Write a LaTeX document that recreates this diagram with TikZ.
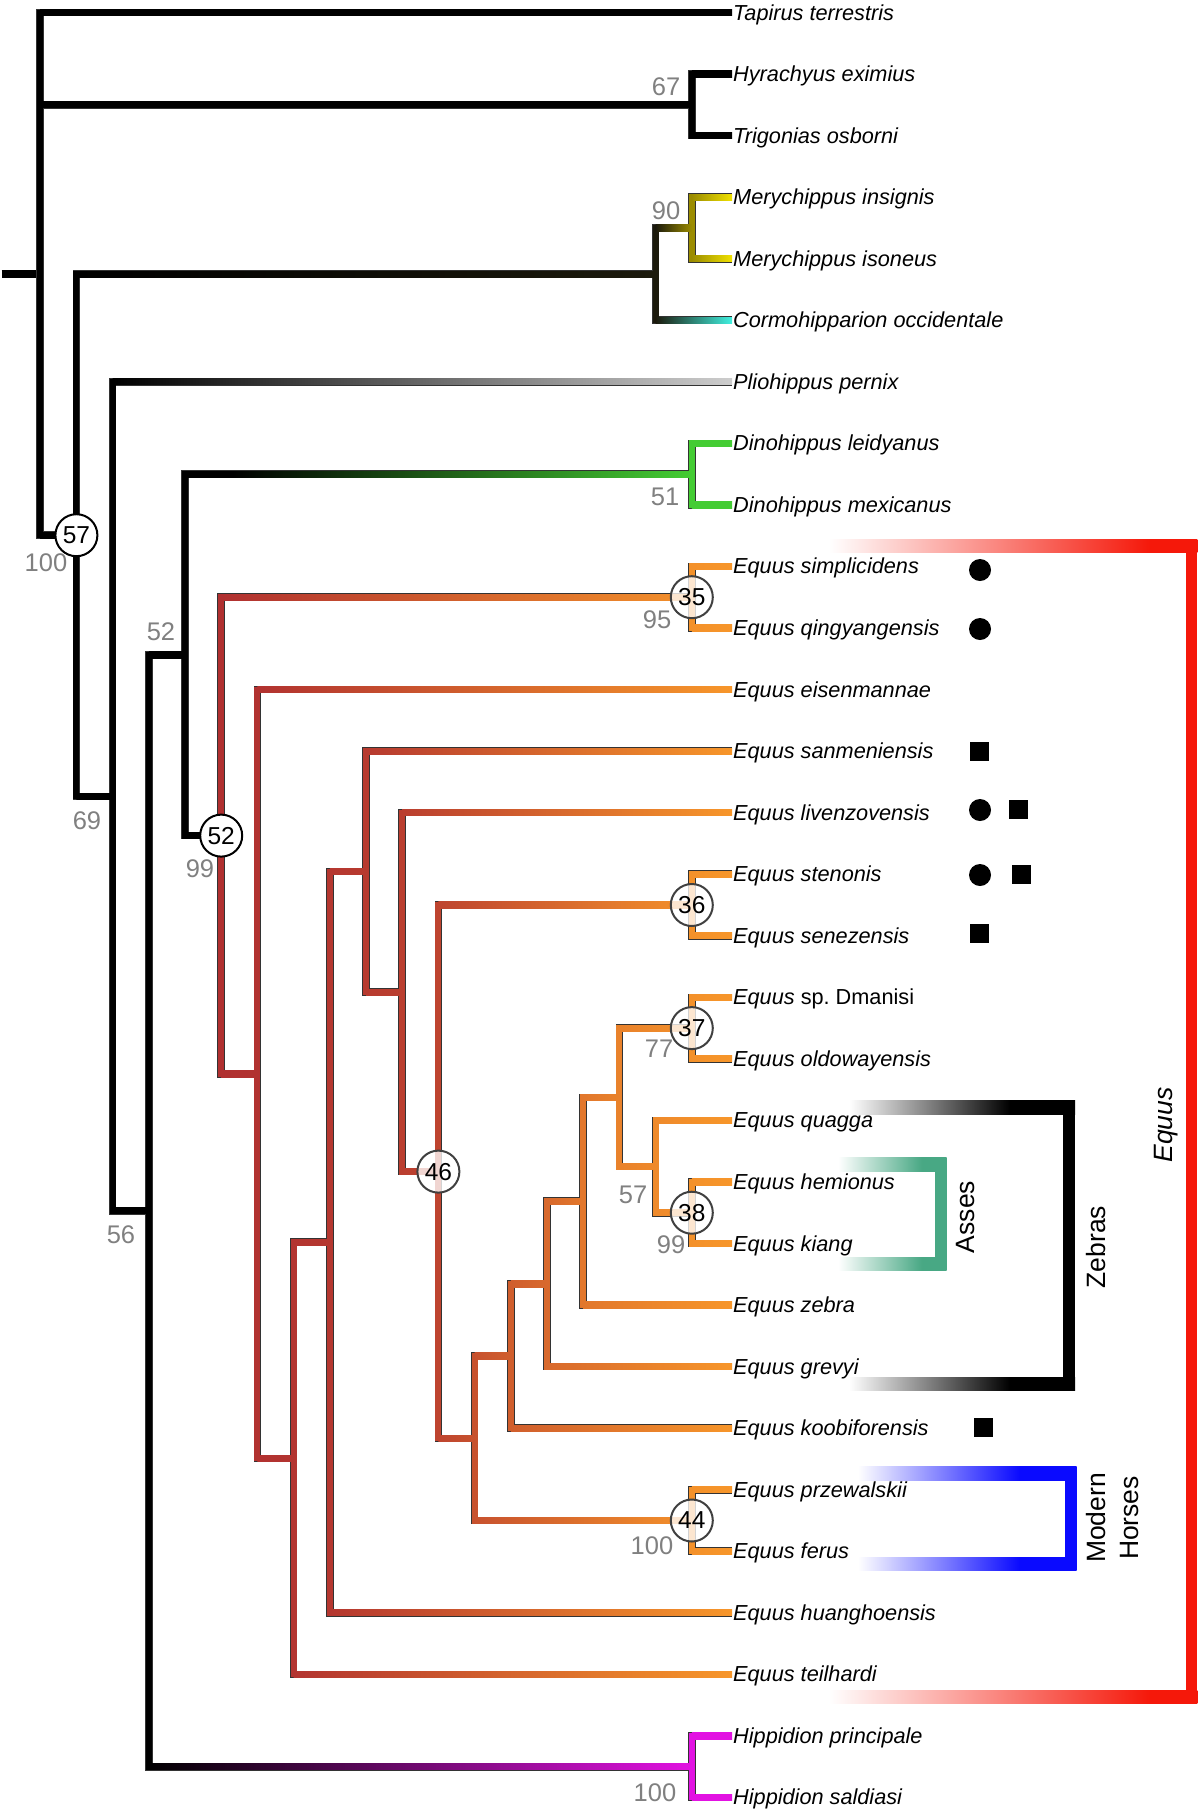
\documentclass[tikz,border=0pt]{standalone}
\usepackage{fontspec}
\setmainfont{Liberation Sans}
\usetikzlibrary{calc}
\definecolor{eqR}{RGB}{176,48,48}
\definecolor{eqO}{RGB}{247,150,42}
\colorlet{c5}{eqO!0!eqR}
\colorlet{c6}{eqO!2!eqR}
\colorlet{c7}{eqO!4!eqR}
\colorlet{c8}{eqO!7!eqR}
\colorlet{c9}{eqO!10!eqR}
\colorlet{c10}{eqO!14!eqR}
\colorlet{c11}{eqO!20!eqR}
\colorlet{c12}{eqO!33!eqR}
\colorlet{c13}{eqO!45!eqR}
\colorlet{c14}{eqO!56!eqR}
\colorlet{c15}{eqO!70!eqR}
\colorlet{c16}{eqO!80!eqR}
\colorlet{c17}{eqO!88!eqR}
\colorlet{c18}{eqO!95!eqR}
\colorlet{cT}{eqO}
\definecolor{mcC}{RGB}{28,26,12}
\definecolor{oliveM}{RGB}{155,140,0}
\definecolor{yelT}{RGB}{240,225,0}
\definecolor{cyanT}{RGB}{64,240,224}
\definecolor{grayT}{RGB}{205,205,205}
\definecolor{greenD}{RGB}{68,204,51}
\definecolor{magH}{RGB}{226,18,226}
\definecolor{lblgray}{RGB}{128,128,128}
\definecolor{eqBr}{RGB}{245,24,10}
\definecolor{assC}{RGB}{72,168,132}
\definecolor{horC}{RGB}{10,10,255}
\pgfdeclarehorizontalshading{fadeEq}{100bp}{color(0bp)=(white); color(25bp)=(white); color(68.6bp)=(eqBr); color(100bp)=(eqBr)}
\pgfdeclarehorizontalshading{fadeZb}{100bp}{color(0bp)=(white); color(25bp)=(white); color(60.6bp)=(black); color(100bp)=(black)}
\pgfdeclarehorizontalshading{fadeAs}{100bp}{color(0bp)=(white); color(25bp)=(white); color(63.7bp)=(assC); color(100bp)=(assC)}
\pgfdeclarehorizontalshading{fadeHo}{100bp}{color(0bp)=(white); color(25bp)=(white); color(62bp)=(horC); color(100bp)=(horC)}
\begin{document}
\begin{tikzpicture}[x=1pt,y=-1pt,
  sp/.style={anchor=base west,inner sep=0pt,xshift=1pt,yshift=-7.5pt,font=\fontsize{21.7}{26}\selectfont\itshape},
  supv/.style={inner sep=0pt,text=lblgray,font=\fontsize{25.5}{26}\selectfont},
  bigc/.style={circle,draw=black,line width=2pt,fill=white,minimum size=42pt,inner sep=0pt,font=\fontsize{24.5}{24}\selectfont},
  smc/.style={circle,draw=black!75,line width=2pt,fill=white,fill opacity=0.78,text opacity=1,minimum size=42pt,inner sep=0pt,font=\fontsize{24.5}{24}\selectfont},
  dotm/.style={circle,fill=black,minimum size=22pt,inner sep=0pt},
  sqm/.style={rectangle,fill=black,minimum size=19pt,inner sep=0pt},
  brl/.style={rotate=90,inner sep=0pt,align=center,font=\fontsize{26.5}{33}\selectfont},
  bord/.style={line width=7.6pt,draw=black!80}
]
\useasboundingbox (0,0) rectangle (1200,1813);

% ---------- clade brackets ----------
% Equus
\coordinate (eqT0) at (829,546);  \coordinate (eqT2) at (1191.5,546);
\coordinate (eqB0) at (829,1697); \coordinate (eqB2) at (1191.5,1697);
\draw[line width=11.5pt,eqBr,line cap=rect] (eqT2) -- (eqB2);
\shade[shading=fadeEq] ($(eqT0)+(0,-6.4)$) rectangle ($(eqT2)+(5.75,6.4)$);
\shade[shading=fadeEq] ($(eqB0)+(0,-6.4)$) rectangle ($(eqB2)+(5.75,6.4)$);
% Zebras
\coordinate (zbT0) at (849,1107.5); \coordinate (zbT2) at (1069,1107.5);
\coordinate (zbB0) at (849,1384);   \coordinate (zbB2) at (1069,1384);
\draw[line width=12pt,black,line cap=rect] (zbT2) -- (zbB2);
\shade[shading=fadeZb] ($(zbT0)+(0,-6.6)$) rectangle ($(zbT2)+(6,6.6)$);
\shade[shading=fadeZb] ($(zbB0)+(0,-6.6)$) rectangle ($(zbB2)+(6,6.6)$);
% Asses
\coordinate (asT0) at (838,1164.5); \coordinate (asT2) at (940.5,1164.5);
\coordinate (asB0) at (838,1264);   \coordinate (asB2) at (940.5,1264);
\draw[line width=12pt,assC,line cap=rect] (asT2) -- (asB2);
\shade[shading=fadeAs] ($(asT0)+(0,-6.6)$) rectangle ($(asT2)+(6,6.6)$);
\shade[shading=fadeAs] ($(asB0)+(0,-6.6)$) rectangle ($(asB2)+(6,6.6)$);
% Modern horses
\coordinate (hoT0) at (858,1473.5); \coordinate (hoT2) at (1070.5,1473.5);
\coordinate (hoB0) at (858,1564);   \coordinate (hoB2) at (1070.5,1564);
\draw[line width=12pt,horC,line cap=rect] (hoT2) -- (hoB2);
\shade[shading=fadeHo] ($(hoT0)+(0,-6.6)$) rectangle ($(hoT2)+(6,6.6)$);
\shade[shading=fadeHo] ($(hoB0)+(0,-6.6)$) rectangle ($(hoB2)+(6,6.6)$);

% ---------- tree coordinates ----------
\foreach \i in {0,...,29} \coordinate (l\i) at (732,{12.5+61.55*\i});
\coordinate (stub) at (1.5,273.9);
\coordinate (Root) at (40.2,273.9);
\coordinate (HT) at (691.8,104.8);
\coordinate (N57) at (76.4,535.2);
\coordinate (MC) at (655.6,274.1);
\coordinate (M) at (691.8,227.9);
\coordinate (N69) at (112.6,796.3);
\coordinate (N56) at (148.8,1210.8);
\coordinate (N52) at (185,654.9);
\coordinate (d0) at (232,474.1);
\coordinate (Dn) at (691.8,474.1);
\coordinate (Hp) at (691.8,1766.7);
\coordinate (E) at (221.2,835.6);
\coordinate (S35) at (691.8,597.2);
\coordinate (A) at (257.4,1073.9);
\coordinate (B) at (293.6,1458.3);
\coordinate (C) at (329.8,1242.2);
\coordinate (D) at (366,871.6);
\coordinate (F) at (402.2,992.1);
\coordinate (N46) at (438.4,1171.6);
\coordinate (S36) at (691.8,905.0);
\coordinate (H1) at (474.6,1438.3);
\coordinate (H2) at (510.8,1356.0);
\coordinate (H3) at (547,1283.9);
\coordinate (H4) at (583.2,1201.2);
\coordinate (H5) at (619.4,1097.3);
\coordinate (H6) at (655.6,1166.6);
\coordinate (S37) at (691.8,1028.1);
\coordinate (S38) at (691.8,1212.7);
\coordinate (S44) at (691.8,1520.5);

\def\edgelist{Root/l0/black/black, Root/HT/black/black, Root/N57/black/black,
HT/l1/black/black, HT/l2/black/black,
N57/MC/black/mcC, N57/N69/black/black,
MC/M/mcC/oliveM, MC/l5/mcC/cyanT, M/l3/oliveM/yelT, M/l4/oliveM/yelT,
N69/l6/black/grayT, N69/N56/black/black,
N56/N52/black/black, N56/Hp/black/magH, Hp/l28/magH/magH, Hp/l29/magH/magH,
N52/d0/black/black, d0/Dn/black/greenD, Dn/l7/greenD/greenD, Dn/l8/greenD/greenD,
N52/E/black/black,
E/S35/c5/c18, E/A/c5/c6, S35/l9/c18/cT, S35/l10/c18/cT,
A/l11/c6/cT, A/B/c6/c7, B/C/c7/c8, B/l27/c7/cT,
C/D/c8/c9, C/l26/c8/cT, D/l12/c9/cT, D/F/c9/c10,
F/l13/c10/cT, F/N46/c10/c11, N46/S36/c11/c18, N46/H1/c11/c12,
S36/l14/c18/cT, S36/l15/c18/cT,
H1/H2/c12/c13, H1/S44/c12/c18, S44/l24/c18/cT, S44/l25/c18/cT,
H2/H3/c13/c14, H2/l23/c13/cT, H3/H4/c14/c15, H3/l22/c14/cT,
H4/H5/c15/c16, H4/l21/c15/cT, H5/S37/c16/c18, H5/H6/c16/c17,
S37/l16/c18/cT, S37/l17/c18/cT, H6/l18/c17/cT, H6/S38/c17/c18,
S38/l19/c18/cT, S38/l20/c18/cT}

% pass 1: outlines
\draw[line width=7.6pt,black] (stub) -- (Root);
\foreach \na/\nb/\ca/\cb in \edgelist { \draw[bord] (\na) |- (\nb); }
% pass 2: vertical fills
\foreach \na/\nb/\ca/\cb in \edgelist {
  \draw[line width=6pt,draw=\ca,line cap=rect] let \p1=(\na), \p2=(\nb) in (\x1,\y1) -- (\x1,\y2);
}
% pass 3: horizontal shaded fills
\foreach \na/\nb/\ca/\cb in \edgelist {
  \shade[left color=\ca,right color=\cb] let \p1=(\na), \p2=(\nb) in (\x1,\y2-3.1pt) rectangle (\x2,\y2+3.1pt);
}

% ---------- node circles ----------
\node[bigc] (c57) at (N57) {57};
\node[bigc] (c52) at (E) {52};
\node[smc] (c35) at (S35) {35};
\node[smc] (c36) at (S36) {36};
\node[smc] (c37) at (S37) {37};
\node[smc] (c38) at (S38) {38};
\node[smc] (c44) at (S44) {44};
\node[smc] (c46) at (N46) {46};

% ---------- support values ----------
\node[supv] (s67) at (666,86.5) {67};
\node[supv] (s90) at (666,211) {90};
\node[supv] (s51) at (665,497) {51};
\node[supv] (s100a) at (46,563) {100};
\node[supv] (s52) at (161,632) {52};
\node[supv] (s69) at (87,821) {69};
\node[supv] (s99a) at (200,869) {99};
\node[supv] (s95) at (657,620) {95};
\node[supv] (s77) at (659,1049) {77};
\node[supv] (s57) at (633,1195) {57};
\node[supv] (s99b) at (671,1245) {99};
\node[supv] (s56) at (121,1235) {56};
\node[supv] (s100b) at (652,1546) {100};
\node[supv] (s100c) at (655,1793) {100};

% ---------- taxon names ----------
\foreach \i/\t in {0/Tapirus terrestris, 1/Hyrachyus eximius, 2/Trigonias osborni,
  3/Merychippus insignis, 4/Merychippus isoneus, 5/Cormohipparion occidentale,
  6/Pliohippus pernix, 7/Dinohippus leidyanus, 8/Dinohippus mexicanus,
  9/Equus simplicidens, 10/Equus qingyangensis, 11/Equus eisenmannae,
  12/Equus sanmeniensis, 13/Equus livenzovensis, 14/Equus stenonis,
  15/Equus senezensis, 16/Equus {\upshape sp.\ Dmanisi}, 17/Equus oldowayensis,
  18/Equus quagga, 19/Equus hemionus, 20/Equus kiang, 21/Equus zebra,
  22/Equus grevyi, 23/Equus koobiforensis, 24/Equus przewalskii,
  25/Equus ferus, 26/Equus huanghoensis, 27/Equus teilhardi,
  28/Hippidion principale, 29/Hippidion saldiasi}
  { \node[sp] (t\i) at (l\i) {\t}; }

% ---------- markers ----------
\node[dotm] (mk1) at (980,570) {};
\node[dotm] (mk2) at (980,629) {};
\node[sqm]  (mk3) at (979,751.5) {};
\node[dotm] (mk4) at (980,810) {};
\node[sqm]  (mk5) at (1018.5,809) {};
\node[dotm] (mk6) at (980,875) {};
\node[sqm]  (mk7) at (1021,874.5) {};
\node[sqm]  (mk8) at (979,933) {};
\node[sqm]  (mk9) at (983.5,1427) {};

% ---------- bracket labels ----------
\node[brl] (asses) at (966,1217) {Asses};
\node[brl] (zebras) at (1096,1247) {Zebras};
\node[brl] (modern) at (1112.5,1518) {Modern\\Horses};
\node[brl,font=\fontsize{26.5}{33}\selectfont\itshape] (equus) at (1166,1125) {Equus};
\end{tikzpicture}
\end{document}
